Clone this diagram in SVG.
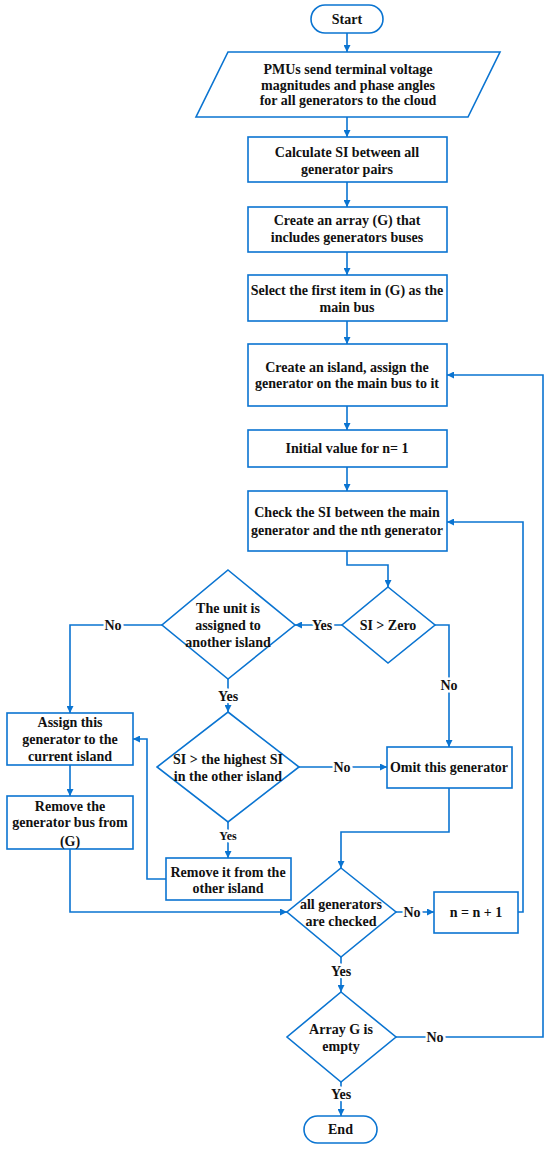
<svg xmlns="http://www.w3.org/2000/svg" width="550" height="1151" viewBox="0 0 550 1151">
<style>
.n{fill:#fff;stroke:#0a74d1;stroke-width:1.6}
.c{fill:none;stroke:#0a74d1;stroke-width:1.6}
text{font-family:"Liberation Serif","Times New Roman",serif;font-weight:bold;font-size:14px;fill:#111;text-anchor:middle}
.l{paint-order:stroke;stroke:#fff;stroke-width:5px;stroke-linejoin:round}
.s{font-size:12px}
</style>
<defs>
<marker id="a" viewBox="0 0 10 10" refX="10" refY="5" markerWidth="7" markerHeight="7" markerUnits="userSpaceOnUse" orient="auto">
<path d="M0,0 L10,5 L0,10 z" fill="#0a74d1"/>
</marker>
</defs>
<rect width="550" height="1151" fill="#fff"/>
<g id="connectors">
<path class="c" d="M347,33 V52" marker-end="url(#a)"/>
<path class="c" d="M347,117 V137" marker-end="url(#a)"/>
<path class="c" d="M347,182 V207" marker-end="url(#a)"/>
<path class="c" d="M347,252 V275" marker-end="url(#a)"/>
<path class="c" d="M347,321 V344" marker-end="url(#a)"/>
<path class="c" d="M347,406 V430" marker-end="url(#a)"/>
<path class="c" d="M347,467 V491" marker-end="url(#a)"/>
<path class="c" d="M347,551 V565 H388 V587" marker-end="url(#a)"/>
<path class="c" d="M342,625 H295" marker-end="url(#a)"/>
<path class="c" d="M435,625 H449 V747" marker-end="url(#a)"/>
<path class="c" d="M162,625 H70 V713" marker-end="url(#a)"/>
<path class="c" d="M228,679 V712" marker-end="url(#a)"/>
<path class="c" d="M70,765 V796" marker-end="url(#a)"/>
<path class="c" d="M228,822 V858" marker-end="url(#a)"/>
<path class="c" d="M166,879 H147 V739 H133" marker-end="url(#a)"/>
<path class="c" d="M299,767 H387" marker-end="url(#a)"/>
<path class="c" d="M449,788 V832 H341 V868" marker-end="url(#a)"/>
<path class="c" d="M70,849 V912 H287" marker-end="url(#a)"/>
<path class="c" d="M396,912 H434" marker-end="url(#a)"/>
<path class="c" d="M518,912 H523 V522 H447" marker-end="url(#a)"/>
<path class="c" d="M341,957 V992" marker-end="url(#a)"/>
<path class="c" d="M396,1037 H543 V375 H447" marker-end="url(#a)"/>
<path class="c" d="M341,1082 V1116" marker-end="url(#a)"/>
<text class="l" x="322" y="630">Yes</text>
<text class="l" x="449" y="690">No</text>
<text class="l" x="113" y="630">No</text>
<text class="l" x="228" y="701">Yes</text>
<text class="l s" x="228" y="840">Yes</text>
<text class="l" x="342" y="772">No</text>
<text class="l" x="412" y="917">No</text>
<text class="l" x="341" y="976">Yes</text>
<text class="l" x="435" y="1042">No</text>
<text class="l" x="341" y="1099">Yes</text>
</g>
<g id="start">
<rect class="n" x="311" y="5" width="72" height="28" rx="14"/>
<text x="347" y="24">Start</text>
</g>
<g id="pmu">
<polygon class="n" points="228,52 500,52 468,117 196,117"/>
<text x="348" y="74">PMUs send terminal voltage</text>
<text x="348" y="90">magnitudes and phase angles</text>
<text x="348" y="105">for all generators to the cloud</text>
</g>
<g id="calc">
<rect class="n" x="248" y="137" width="199" height="45"/>
<text x="347" y="157">Calculate SI between all</text>
<text x="347" y="174">generator pairs</text>
</g>
<g id="array">
<rect class="n" x="248" y="207" width="199" height="45"/>
<text x="347" y="225">Create an array (G) that</text>
<text x="347" y="242">includes generators buses</text>
</g>
<g id="select">
<rect class="n" x="248" y="275" width="199" height="46"/>
<text x="347" y="295">Select the first item in (G) as the</text>
<text x="347" y="312">main bus</text>
</g>
<g id="island">
<rect class="n" x="248" y="344" width="199" height="62"/>
<text x="347" y="372">Create an island, assign the</text>
<text x="347" y="388">generator on the main bus to it</text>
</g>
<g id="init">
<rect class="n" x="248" y="430" width="199" height="37"/>
<text x="347" y="453">Initial value for n= 1</text>
</g>
<g id="check">
<rect class="n" x="248" y="491" width="199" height="60"/>
<text x="347" y="517">Check the SI between the main</text>
<text x="347" y="535">generator and the nth generator</text>
</g>
<g id="sizero">
<polygon class="n" points="388,587 435,625 388,663 342,625"/>
<text x="388" y="630">SI &gt; Zero</text>
</g>
<g id="assigned">
<polygon class="n" points="228,570 295,625 228,679 162,625"/>
<text x="228" y="613">The unit is</text>
<text x="228" y="630">assigned to</text>
<text x="228" y="647">another island</text>
</g>
<g id="highest">
<polygon class="n" points="228,712 299,767 228,822 157,767"/>
<text x="228" y="764">SI &gt; the highest SI</text>
<text x="228" y="781">in the other island</text>
</g>
<g id="assign">
<rect class="n" x="7" y="713" width="126" height="52"/>
<text x="70" y="727">Assign this</text>
<text x="70" y="744">generator to the</text>
<text x="70" y="761">current island</text>
</g>
<g id="removebus">
<rect class="n" x="7" y="796" width="126" height="53"/>
<text x="70" y="811">Remove the</text>
<text x="70" y="827">generator bus from</text>
<text x="70" y="846">(G)</text>
</g>
<g id="removeit">
<rect class="n" x="166" y="858" width="125" height="42"/>
<text x="228" y="877">Remove it from the</text>
<text x="228" y="893">other island</text>
</g>
<g id="omit">
<rect class="n" x="387" y="747" width="125" height="41"/>
<text x="449" y="772">Omit this generator</text>
</g>
<g id="allchecked">
<polygon class="n" points="341,868 396,912 341,957 287,912"/>
<text x="341" y="909">all generators</text>
<text x="341" y="926">are checked</text>
</g>
<g id="incr">
<rect class="n" x="434" y="892" width="84" height="41"/>
<text x="476" y="917">n = n + 1</text>
</g>
<g id="empty">
<polygon class="n" points="341,992 396,1037 341,1082 287,1037"/>
<text x="341" y="1034">Array G is</text>
<text x="341" y="1051">empty</text>
</g>
<g id="end">
<rect class="n" x="304" y="1116" width="73" height="27" rx="13.5"/>
<text x="340.5" y="1134">End</text>
</g>
</svg>
